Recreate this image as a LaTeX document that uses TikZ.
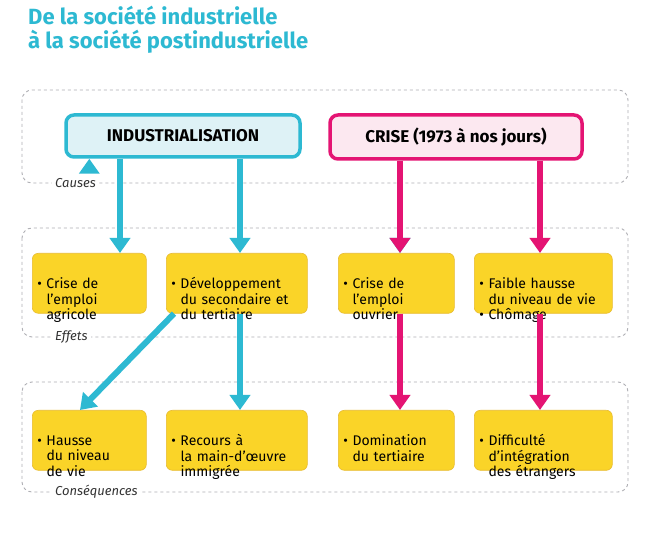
\documentclass[tikz,border=0pt]{standalone}
\usepackage{fontspec}
\setmainfont{Fira Sans}
\usetikzlibrary{arrows.meta}
\definecolor{cy}{RGB}{45,185,210}
\definecolor{cyl}{RGB}{222,242,246}
\definecolor{mg}{RGB}{228,20,115}
\definecolor{mgl}{RGB}{252,232,240}
\definecolor{yl}{RGB}{250,212,40}
\definecolor{fr}{RGB}{175,175,180}
\begin{document}
\begin{tikzpicture}[x=1pt,y=-1pt,
  frame/.style={draw=fr,dashed,line width=0.9pt,rounded corners=10pt},
  grp/.style={font=\itshape\fontsize{13}{13}\selectfont,fill=white,inner sep=3pt,text=black!80},
  ybox/.style={draw=yl!70!brown,fill=yl,rounded corners=6pt,line width=0.6pt,minimum height=60pt,anchor=north west,align=left,font=\fontsize{14}{15.5}\selectfont,inner xsep=5pt,text depth=0pt},
  carr/.style={draw=cy,line width=6pt,-{Triangle[length=15pt,width=20pt]}},
  marr/.style={draw=mg,line width=6pt,-{Triangle[length=15pt,width=20pt]}}]
\useasboundingbox (0,0) rectangle (657,540);
\fill[white] (0,0) rectangle (657,540);
\node[anchor=north west,text=cy,font=\bfseries\fontsize{22}{24}\selectfont,align=left,inner sep=0pt] (title) at (28,6) {De la société industrielle\\à la société postindustrielle};
% frames
\draw[frame] (22,90) rectangle (628,183);
\draw[frame] (22,228) rectangle (628,337);
\draw[frame] (22,382) rectangle (628,492);
\node[grp,anchor=west] (causes) at (52,183) {Causes};
\node[grp,anchor=west] (effets) at (52,337) {Effets};
\node[grp,anchor=west] (cons) at (52,492) {Conséquences};
% top boxes
\node[draw=cy,fill=cyl,line width=3.5pt,rounded corners=8pt,minimum width=234pt,minimum height=42pt,font=\bfseries\fontsize{17}{17}\selectfont] (ind) at (183,136) {INDUSTRIALISATION};
\node[draw=mg,fill=mgl,line width=3.5pt,rounded corners=8pt,minimum width=252pt,minimum height=44pt,font=\bfseries\fontsize{17}{17}\selectfont] (cri) at (456,137) {CRISE (1973 à nos jours)};
% row 1
\newcommand{\bl}{\phantom{\textbullet\ }}
\node[ybox,minimum width=114pt,text width=104pt] (a1) at (32,253) {\textbullet\ Crise de\\\bl l’emploi\\\bl agricole};
\node[ybox,minimum width=141pt,text width=131pt] (a2) at (166,253) {\textbullet\ Développement\\\bl du secondaire et\\\bl du tertiaire};
\node[ybox,minimum width=116pt,text width=106pt] (a3) at (338,253) {\textbullet\ Crise de\\\bl l’emploi\\\bl ouvrier};
\node[ybox,minimum width=138pt,text width=128pt] (a4) at (474,253) {\textbullet\ Faible hausse\\\bl du niveau de vie\\\textbullet\ Chômage};
% row 2
\node[ybox,minimum width=114pt,text width=104pt] (b1) at (32,410) {\textbullet\ Hausse\\\bl du niveau\\\bl de vie};
\node[ybox,minimum width=141pt,text width=131pt] (b2) at (166,410) {\textbullet\ Recours à\\\bl la main-d’œuvre\\\bl immigrée};
\node[ybox,minimum width=116pt,text width=106pt] (b3) at (338,410) {\textbullet\ Domination\\\bl du tertiaire};
\node[ybox,minimum width=138pt,text width=128pt] (b4) at (474,410) {\textbullet\ Difficulté\\\bl d’intégration\\\bl des étrangers};
% arrows
\draw[carr] (ind.south -| a1.north) ++(-0,0) coordinate (s1);
\draw[carr] ([xshift=-63pt]ind.south) -- ([xshift=-63pt]ind.south |- a1.north);
\draw[carr] ([xshift=57pt]ind.south) -- ([xshift=57pt]ind.south |- a2.north);
\draw[carr] ([xshift=-56pt]cri.south) -- ([xshift=-56pt]cri.south |- a3.north);
\draw[carr,draw=mg] ([xshift=84pt]cri.south) -- ([xshift=84pt]cri.south |- a4.north);
\draw[marr] ([xshift=-56pt]cri.south) -- ([xshift=-56pt]cri.south |- a3.north);
\draw[carr] ([xshift=8pt]a2.south west) -- ([xshift=48pt]b1.north west);
\draw[carr] ([xshift=74pt]a2.south west) -- ([xshift=74pt]b2.north west);
\draw[marr] ([xshift=62pt]a3.south west) -- ([xshift=62pt]b3.north west);
\draw[marr] ([xshift=66pt]a4.south west) -- ([xshift=66pt]b4.north west);
\end{tikzpicture}
\end{document}
